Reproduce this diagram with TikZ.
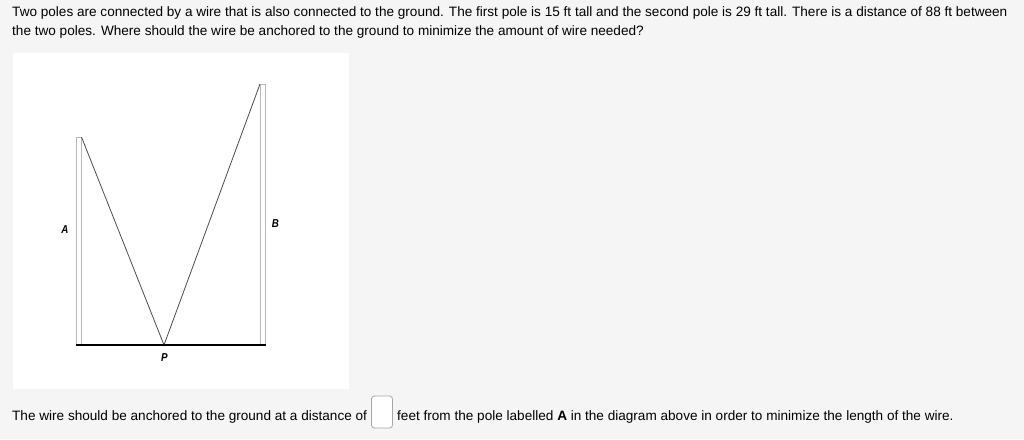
\documentclass[tikz,border=0pt]{standalone}
\usepackage{fontspec}
\setmainfont{Liberation Sans}
\begin{document}
\begin{tikzpicture}[x=1pt,y=-1pt]
  \tikzset{txt/.style = {anchor=base west,inner sep=0pt,font=\fontsize{13.58}{16}\selectfont}}
  \tikzset{pole/.style = {draw=black!28,fill=white,line width=0.8pt}}
  \tikzset{tag/.style = {inner sep=0pt,font=\fontsize{11.5}{12}\selectfont\bfseries\itshape}}
	\fill[black!4] (0,0) rectangle (1024,439);
	\node[txt] (q1) at (12,16.5) {Two poles are connected by a wire that is also connected to the ground. The first pole is 15 ft tall and the second pole is 29 ft tall. There is a distance of 88 ft between};
	\node[txt] (q2) at (12,35.5) {the two poles. Where should the wire be anchored to the ground to minimize the amount of wire needed?};

	\fill[white] (13,53) rectangle (349,389);
	\draw[pole] (76,137) rectangle (81.5,345);
	\draw[pole] (260,84) rectangle (265.5,345);
	\coordinate (topA) at (81.5,137);
	\coordinate (topB) at (260,84);
	\coordinate (P) at (164,345);
	\coordinate (g1) at (76,345);
	\coordinate (g2) at (265.5,345);
	\draw[line width=1.8pt] (g1) -- (g2);
	\draw[black!70,line width=0.8pt] (topA) -- (P) -- (topB);
	\fill (P) circle (1.3pt);
	\node[tag,xscale=0.85] (A) at (65,229.5) {A};
	\node[tag,xscale=0.85] (B) at (275.5,223.5) {B};
	\node[tag,xscale=0.85] (labP) at (164.5,358) {P};

	\node[txt] (a1) at (12,420) {The wire should be anchored to the ground at a distance of};
	\node[draw=black!35,line width=0.8pt,fill=white,rounded corners=3pt,minimum width=21pt,minimum height=32pt,inner sep=0pt] (ans) at (382,412) {};
	\node[txt] (a2) at (397,420) {feet from the pole labelled \textbf{A} in the diagram above in order to minimize the length of the wire.};
\end{tikzpicture}
\end{document}
